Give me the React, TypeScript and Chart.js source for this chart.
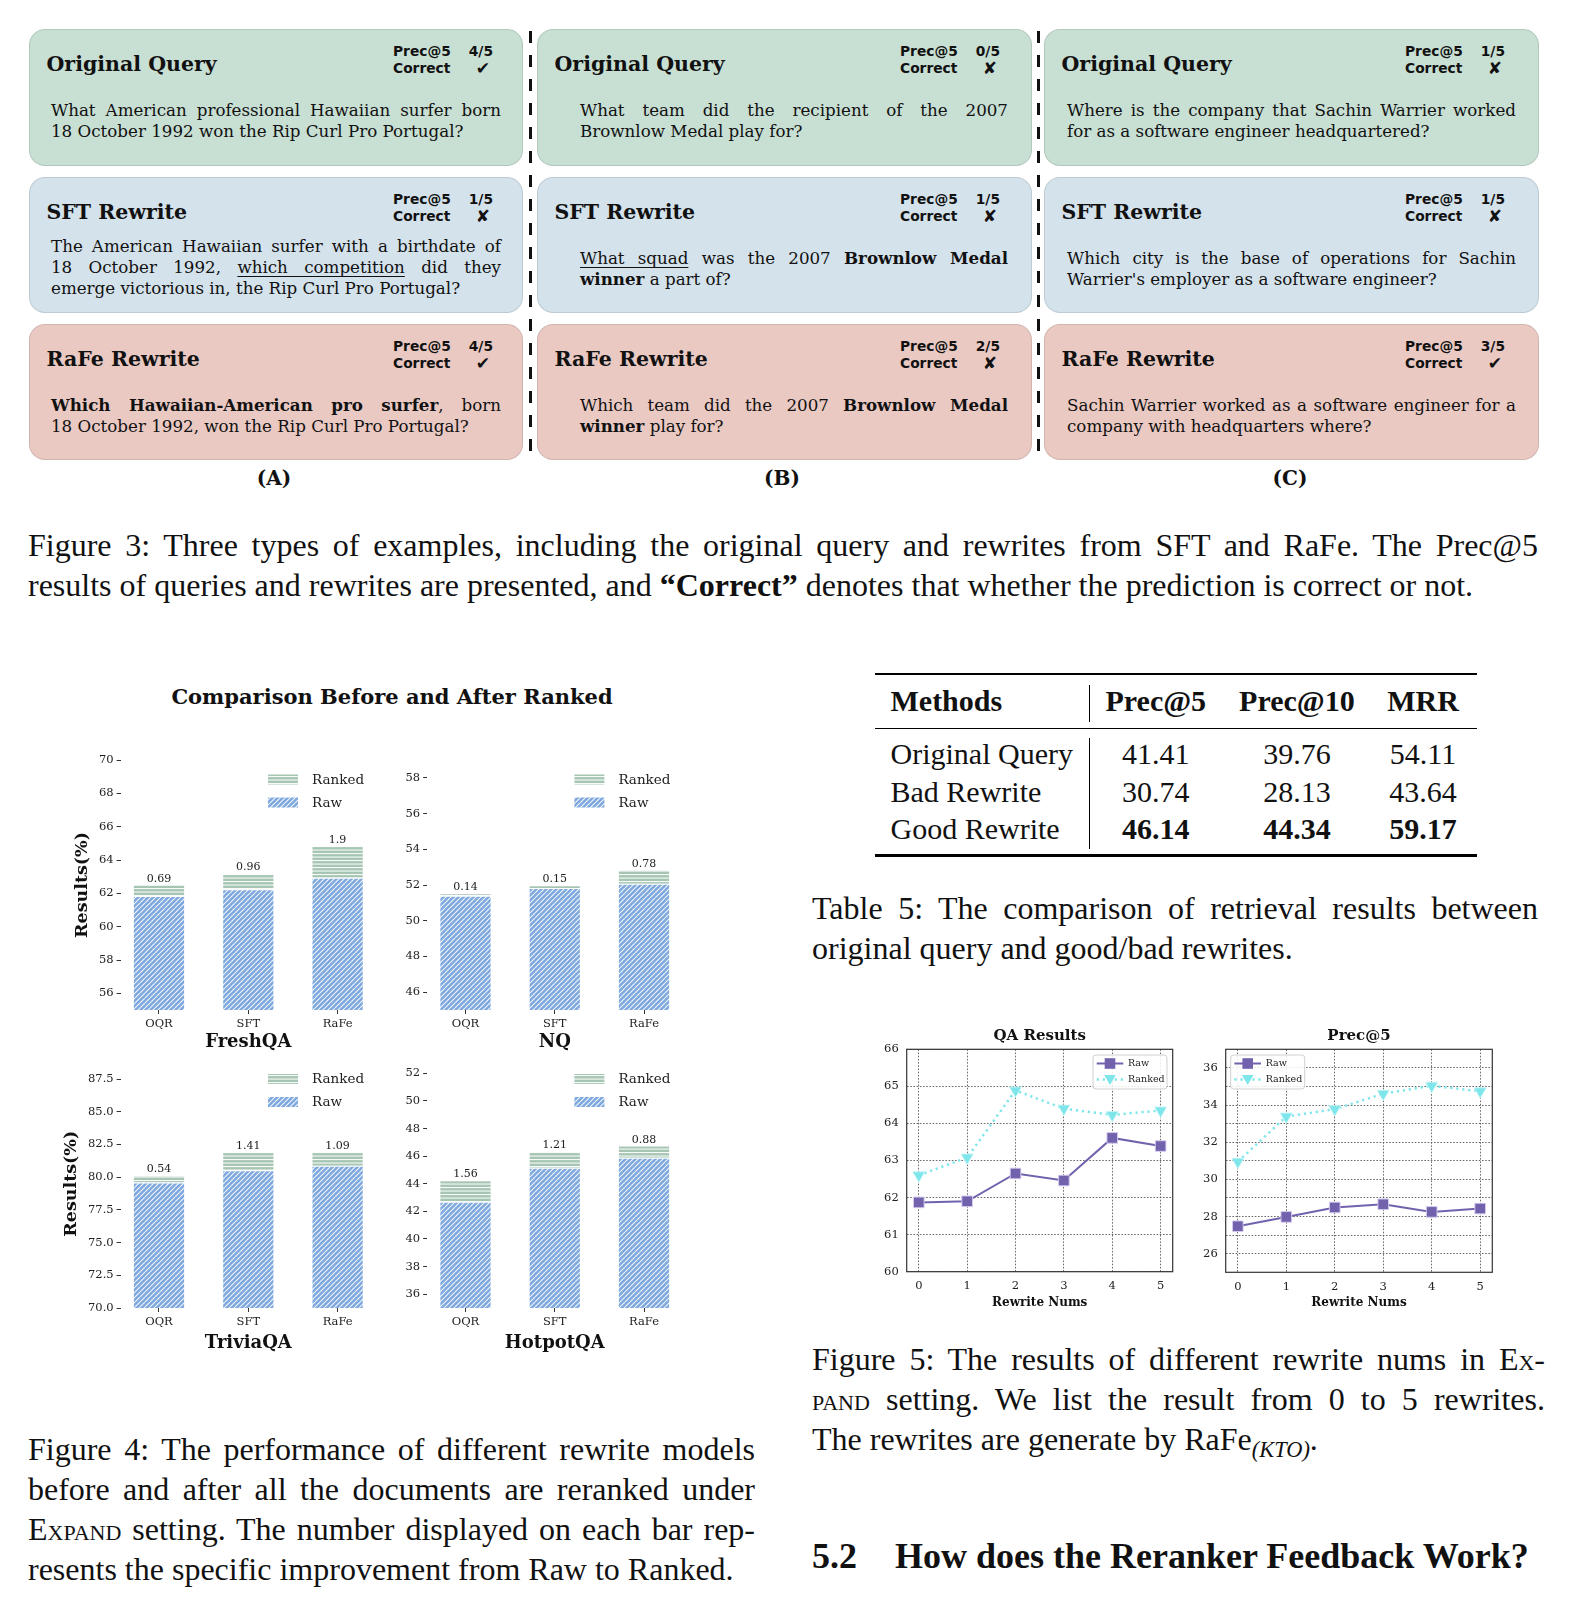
import React, { useEffect, useRef } from 'react';
import { Chart, registerables } from 'chart.js';

Chart.register(...registerables);

// ===== Figure 4 data =====
const methodLabels = ['OQR', 'SFT', 'RaFe'];
const freshqaRaw = [61.84, 62.24, 62.94];
const freshqaGain = [0.69, 0.96, 1.9];
const nqRaw = [51.4, 51.83, 52.07];
const nqGain = [0.14, 0.15, 0.78];
const triviaqaRaw = [79.6, 80.54, 80.87];
const triviaqaGain = [0.54, 1.41, 1.09];
const hotpotqaRaw = [42.7, 45.15, 45.89];
const hotpotqaGain = [1.56, 1.21, 0.88];
const freshqaTicks = [56, 58, 60, 62, 64, 66, 68, 70];
const nqTicks = [46, 48, 50, 52, 54, 56, 58];
const triviaqaTicks = [70, 72.5, 75, 77.5, 80, 82.5, 85, 87.5];
const hotpotqaTicks = [36, 38, 40, 42, 44, 46, 48, 50, 52];

// ===== Figure 5 data =====
const rewriteNums = [0, 1, 2, 3, 4, 5];
const qaRaw = [61.87, 61.9, 62.65, 62.46, 63.61, 63.39];
const qaRanked = [62.6, 63.08, 64.89, 64.4, 64.23, 64.35];
const precRaw = [27.48, 27.98, 28.49, 28.66, 28.25, 28.43];
const precRanked = [30.95, 33.38, 33.78, 34.61, 35.04, 34.74];
const qaTicks = [60, 61, 62, 63, 64, 65, 66];
const precTicks = [26, 27, 28, 29, 30, 31, 32, 33, 34, 35, 36];

// ===== Table 5 data =====
const tableMethods = ['Original Query', 'Bad Rewrite', 'Good Rewrite'];
const tablePrec5 = ['41.41', '30.74', '46.14'];
const tablePrec10 = ['39.76', '28.13', '44.34'];
const tableMRR = ['54.11', '43.64', '59.17'];

const GEO = '"DejaVu Serif", serif';
const TIMES = '"Liberation Serif", "Times New Roman", serif';
const SANS = '"DejaVu Sans", sans-serif';

const RAW_BLUE = '#7fa9de';
const RANK_GREEN = '#a6c5b2';
const PURPLE = '#7262ae';
const CYAN = '#7ee6ea';

function makePattern(kind: 'diag' | 'horiz'): any {
  const c = document.createElement('canvas');
  if (kind === 'diag') {
    const s = 5;
    c.width = s; c.height = s;
    const g = c.getContext('2d')!;
    g.fillStyle = RAW_BLUE; g.fillRect(0, 0, s, s);
    g.strokeStyle = 'rgba(255,255,255,0.92)'; g.lineWidth = 1.05;
    g.beginPath();
    for (const o of [-s, 0, s]) { g.moveTo(o, s); g.lineTo(o + s, 0); }
    g.stroke();
    return g.createPattern(c, 'repeat');
  }
  c.width = 4; c.height = 7;
  const g = c.getContext('2d')!;
  g.fillStyle = RANK_GREEN; g.fillRect(0, 0, 4, 7);
  g.fillStyle = 'rgba(255,255,255,0.9)';
  g.fillRect(0, 0, 4, 1.1);
  g.fillRect(0, 3.5, 4, 1.1);
  return g.createPattern(c, 'repeat');
}

const gainLabelPlugin = {
  id: 'gainLabels',
  afterDatasetsDraw(chart: any) {
    const ds = chart.data.datasets[1];
    const meta = chart.getDatasetMeta(1);
    const ctx = chart.ctx;
    ctx.save();
    ctx.font = '11px "DejaVu Serif"';
    ctx.fillStyle = '#222';
    ctx.textAlign = 'center';
    ctx.textBaseline = 'alphabetic';
    meta.data.forEach((bar: any, i: number) => {
      ctx.fillText(String(ds.data[i].y), bar.x, bar.y - 3);
    });
    ctx.restore();
  },
};

const barLegendPlugin = {
  id: 'barLegend',
  afterDraw(chart: any) {
    const { right, top } = chart.chartArea;
    const ctx = chart.ctx;
    ctx.save();
    [1, 0].forEach((di, row) => {
      const ds = chart.data.datasets[di];
      const y = top + 14.5 + row * 23;
      ctx.fillStyle = ds.backgroundColor;
      ctx.fillRect(right - 108, y, 30, 10);
      ctx.fillStyle = '#222';
      ctx.font = '13.5px "DejaVu Serif"';
      ctx.textAlign = 'left';
      ctx.textBaseline = 'middle';
      ctx.fillText(ds.label, right - 64, y + 5.5);
    });
    ctx.restore();
  },
};

function barConfig(p: any): any {
  const rawPat = makePattern('diag');
  const rankPat = makePattern('horiz');
  const tickGrid = { display: true, offset: false, drawOnChartArea: false, drawTicks: true, tickLength: 4, tickColor: '#333', tickWidth: 1 };
  return {
    type: 'bar',
    data: {
      datasets: [
        { label: 'Raw', data: p.raw.map((v: number, i: number) => ({ x: i, y: v })), backgroundColor: rawPat, borderColor: 'rgba(255,255,255,0.85)', borderWidth: 1, barPercentage: 0.585, categoryPercentage: 1 },
        { label: 'Ranked', data: p.gain.map((v: number, i: number) => ({ x: i, y: v })), backgroundColor: rankPat, borderColor: 'rgba(255,255,255,0.85)', borderWidth: 1, barPercentage: 0.585, categoryPercentage: 1 },
      ],
    },
    options: {
      animation: false,
      responsive: false,
      maintainAspectRatio: false,
      layout: { padding: { top: p.padTop, right: p.padRight, left: 0, bottom: 0 } },
      plugins: { legend: { display: false }, tooltip: { enabled: false }, title: { display: false } },
      scales: {
        x: {
          type: 'linear', stacked: true, offset: false, min: -0.43, max: 2.43,
          afterBuildTicks: (s: any) => { s.ticks = methodLabels.map((_, i) => ({ value: i })); },
          afterFit: (s: any) => { s.height = p.xHeight; },
          ticks: { callback: (v: any) => methodLabels[v], font: { family: GEO, size: 11.5 }, color: '#222', padding: 3, maxRotation: 0, autoSkip: false },
          grid: tickGrid,
          border: { display: false },
          title: { display: true, text: p.name, font: { family: GEO, size: 18, weight: 'bold' }, color: '#111', padding: { top: 0, bottom: 6.5 } },
        },
        y: {
          type: 'linear', stacked: true, min: p.min, max: p.max,
          afterBuildTicks: (s: any) => { s.ticks = p.ticks.map((v: number) => ({ value: v })); },
          afterFit: (s: any) => { s.width = p.yWidth; },
          ticks: { callback: (v: any) => Number(v).toFixed(p.decimals), font: { family: GEO, size: 11.5 }, color: '#222', padding: 3, autoSkip: false },
          grid: tickGrid,
          border: { display: false },
          title: { display: p.yTitle, text: 'Results(%)', font: { family: GEO, size: 17.5, weight: 'bold' }, color: '#111', padding: { top: p.yTitlePad, bottom: 0 } },
        },
      },
    },
    plugins: [gainLabelPlugin, barLegendPlugin],
  };
}

const lineDecorPlugin = {
  id: 'lineDecor',
  afterDraw(chart: any, _args: any, opts: any) {
    const ca = chart.chartArea;
    const ctx = chart.ctx;
    ctx.save();
    ctx.strokeStyle = '#333';
    ctx.lineWidth = 1.2;
    ctx.setLineDash([]);
    ctx.strokeRect(ca.left, ca.top, ca.right - ca.left, ca.bottom - ca.top);
    const bw = 74, bh = 34;
    const bx = opts.corner === 'right' ? ca.right - 5.7 - bw : ca.left + 5;
    const by = ca.top + 5.7;
    ctx.fillStyle = 'rgba(255,255,255,0.85)';
    ctx.strokeStyle = '#d0d0d0';
    ctx.lineWidth = 1;
    ctx.beginPath();
    if ((ctx as any).roundRect) (ctx as any).roundRect(bx, by, bw, bh, 3); else ctx.rect(bx, by, bw, bh);
    ctx.fill();
    ctx.stroke();
    chart.data.datasets.forEach((ds: any, i: number) => {
      const cy = by + 8.5 + i * 16;
      ctx.strokeStyle = ds.borderColor;
      ctx.lineWidth = ds.borderWidth;
      ctx.setLineDash(ds.borderDash || []);
      ctx.beginPath();
      ctx.moveTo(bx + 3.7, cy);
      ctx.lineTo(bx + 30.3, cy);
      ctx.stroke();
      ctx.setLineDash([]);
      ctx.fillStyle = ds.pointBackgroundColor;
      const mx = bx + 17;
      if (ds.pointStyle === 'rect') {
        ctx.fillRect(mx - 5.3, cy - 5.3, 10.6, 10.6);
      } else {
        ctx.beginPath();
        ctx.moveTo(mx - 5.8, cy - 4.5);
        ctx.lineTo(mx + 5.8, cy - 4.5);
        ctx.lineTo(mx, cy + 5.5);
        ctx.closePath();
        ctx.fill();
      }
      ctx.fillStyle = '#222';
      ctx.font = '9.5px "DejaVu Serif"';
      ctx.textAlign = 'left';
      ctx.textBaseline = 'middle';
      ctx.fillText(ds.label, bx + 35, cy);
    });
    ctx.restore();
  },
};

function lineConfig(p: any): any {
  return {
    type: 'line',
    data: {
      datasets: [
        {
          label: 'Raw', data: rewriteNums.map((x, i) => ({ x, y: p.raw[i] })),
          borderColor: PURPLE, backgroundColor: PURPLE, borderWidth: 2,
          pointStyle: 'rect', pointRadius: 7.5, pointBackgroundColor: PURPLE,
          pointBorderColor: 'rgba(215,205,240,0.9)', pointBorderWidth: 1, tension: 0,
        },
        {
          label: 'Ranked', data: rewriteNums.map((x, i) => ({ x, y: p.ranked[i] })),
          borderColor: CYAN, backgroundColor: CYAN, borderWidth: 2.5, borderDash: [2.2, 3.8],
          pointStyle: 'triangle', rotation: 180, pointRadius: 7, pointBackgroundColor: CYAN,
          pointBorderColor: 'rgba(200,245,247,0.9)', pointBorderWidth: 1, tension: 0,
        },
      ],
    },
    options: {
      animation: false,
      responsive: false,
      maintainAspectRatio: false,
      layout: { padding: { top: 0, right: p.padRight, left: 0, bottom: 0 } },
      plugins: {
        legend: { display: false },
        tooltip: { enabled: false },
        title: { display: true, text: p.title, fullSize: false, font: { family: GEO, size: 15, weight: 'bold' }, color: '#111', padding: { top: 12, bottom: 4.3 } },
        lineDecor: { corner: p.corner },
      },
      scales: {
        x: {
          type: 'linear', min: -0.25, max: 5.25,
          afterBuildTicks: (s: any) => { s.ticks = rewriteNums.map((v) => ({ value: v })); },
          afterFit: (s: any) => { s.height = p.xHeight; },
          ticks: { font: { family: GEO, size: 11.5 }, color: '#222', padding: 7.5, maxRotation: 0, autoSkip: false },
          grid: { display: true, drawTicks: false, color: 'rgba(80,80,80,0.85)', lineWidth: 1 },
          border: { display: false, dash: [1.6, 1.6] },
          title: { display: true, text: 'Rewrite Nums', font: { family: GEO, size: 12, weight: 'bold' }, color: '#111', padding: { top: 0, bottom: 5 } },
        },
        y: {
          type: 'linear', min: p.min, max: p.max,
          afterBuildTicks: (s: any) => { s.ticks = p.ticks.map((v: number) => ({ value: v })); },
          afterFit: (s: any) => { s.width = p.yWidth; },
          ticks: { callback: (v: any) => (p.everyOther && v % 2 !== 0 ? '' : String(v)), font: { family: GEO, size: 11.5 }, color: '#222', padding: 8, autoSkip: false },
          grid: { display: true, drawTicks: false, color: 'rgba(80,80,80,0.85)', lineWidth: 1 },
          border: { display: false, dash: [1.6, 1.6] },
        },
      },
    },
    plugins: [lineDecorPlugin],
  };
}

function ChartBox({ left, top, width, height, make }: any) {
  const ref = useRef<HTMLCanvasElement>(null);
  useEffect(() => {
    const chart = new Chart(ref.current as HTMLCanvasElement, make());
    return () => chart.destroy();
  }, []);
  return <canvas ref={ref} width={width} height={height} style={{ position: 'absolute', left, top, width, height }} />;
}

function Line({ x, y, w, size, lh, family, weight, justify, align, children, style }: any) {
  return (
    <div
      style={{
        position: 'absolute', left: x, top: y - lh / 2, width: w, height: lh, lineHeight: lh + 'px',
        fontSize: size, fontFamily: family, fontWeight: weight || 'normal',
        textAlign: justify ? 'justify' : align || 'left', textAlignLast: justify ? 'justify' : (align || 'left'),
        whiteSpace: 'nowrap', color: '#111', ...style,
      } as any}
    >
      {children}
    </div>
  );
}

const U = ({ children }: any) => <span style={{ textDecoration: 'underline', textUnderlineOffset: 3 }}>{children}</span>;
const B = ({ children }: any) => <b>{children}</b>;
const SC = ({ children }: any) => <span style={{ fontVariant: 'small-caps' }}>{children}</span>;

const COLS = [
  { left: 29, right: 523, bodyL: 22, bodyR: 22, precR: 30 },
  { left: 537, right: 1032, bodyL: 43, bodyR: 24, precR: 32 },
  { left: 1044, right: 1539, bodyL: 23, bodyR: 23, precR: 34 },
];
const ROWS = [
  { top: 29, h: 137, bg: '#c8dfd3', title: 'Original Query' },
  { top: 177, h: 136, bg: '#d4e2eb', title: 'SFT Rewrite' },
  { top: 324, h: 136, bg: '#eac9c3', title: 'RaFe Rewrite' },
];

const CELLS: any[][] = [
  [
    { prec: '4/5', ok: true, lines: ['What American professional Hawaiian surfer born', '18 October 1992 won the Rip Curl Pro Portugal?'] },
    { prec: '1/5', ok: false, lines: ['The American Hawaiian surfer with a birthdate of', <>18 October 1992, <U>which competition</U> did they</>, 'emerge victorious in, the Rip Curl Pro Portugal?'] },
    { prec: '4/5', ok: true, lines: [<><B>Which Hawaiian-American pro surfer</B>, born</>, '18 October 1992, won the Rip Curl Pro Portugal?'] },
  ],
  [
    { prec: '0/5', ok: false, lines: ['What team did the recipient of the 2007', 'Brownlow Medal play for?'] },
    { prec: '1/5', ok: false, lines: [<><U>What squad</U> was the 2007 <B>Brownlow Medal</B></>, <><B>winner</B> a part of?</>] },
    { prec: '2/5', ok: false, lines: [<>Which team did the 2007 <B>Brownlow Medal</B></>, <><B>winner</B> play for?</>] },
  ],
  [
    { prec: '1/5', ok: false, lines: ['Where is the company that Sachin Warrier worked', 'for as a software engineer headquartered?'] },
    { prec: '1/5', ok: false, lines: ['Which city is the base of operations for Sachin', "Warrier's employer as a software engineer?"] },
    { prec: '3/5', ok: true, lines: ['Sachin Warrier worked as a software engineer for a', 'company with headquarters where?'] },
  ],
];

function QBox({ col, row, cell }: any) {
  const w = col.right - col.left;
  const offs = cell.lines.length === 3 ? [69.8, 90.5, 111.2] : [81.5, 102.5];
  return (
    <>
      <div style={{ position: 'absolute', left: col.left, top: row.top, width: w, height: row.h, background: row.bg, borderRadius: 16, boxSizing: 'border-box', border: '1px solid rgba(0,0,0,0.10)' }} />
      <Line x={col.left + 17.5} y={row.top + 35} w={300} size={20.5} lh={26} family={GEO} weight="bold">{row.title}</Line>
      <div style={{ position: 'absolute', left: col.right - col.precR - 100, top: row.top + 13.5, width: 100, fontFamily: SANS, fontWeight: 'bold', fontSize: 13.8, lineHeight: '17px', color: '#111' }}>
        <div style={{ display: 'flex', justifyContent: 'space-between', height: 17 }}><span>Prec@5</span><span>{cell.prec}</span></div>
        <div style={{ display: 'flex', justifyContent: 'space-between', height: 17 }}><span>Correct</span><span style={{ paddingRight: 3, fontSize: 17, lineHeight: '17px' }}>{cell.ok ? '✔' : '✘'}</span></div>
      </div>
      {cell.lines.map((ln: any, i: number) => (
        <Line key={i} x={col.left + col.bodyL} y={row.top + offs[i]} w={w - col.bodyL - col.bodyR} size={16.7} lh={21} family={GEO} justify={i < cell.lines.length - 1}>{ln}</Line>
      ))}
    </>
  );
}

export default function App() {
  const cap = { size: 32, lh: 40, family: TIMES };
  return (
    <div style={{ position: 'absolute', left: 0, top: 0, width: 1579, height: 1604, background: '#fff', overflow: 'hidden' }}>
      {/* Figure 3 */}
      {COLS.map((col, ci) => ROWS.map((row, ri) => <QBox key={ci + '-' + ri} col={col} row={row} cell={CELLS[ci][ri]} />))}
      {[530, 1038].map((x) => (
        <div key={x} style={{ position: 'absolute', left: x - 1.5, top: 31, width: 3, height: 430, background: 'repeating-linear-gradient(to bottom, #111 0px, #111 12px, transparent 12px, transparent 24px)' }} />
      ))}
      {[['(A)', 274], ['(B)', 782], ['(C)', 1290]].map(([t, x]: any) => (
        <Line key={t} x={x - 50} y={478} w={100} size={20} lh={24} family={GEO} weight="bold" align="center">{t}</Line>
      ))}
      <Line x={28} y={545} w={1510} {...cap} justify>Figure 3: Three types of examples, including the original query and rewrites from SFT and RaFe. The Prec@5</Line>
      <Line x={28} y={585} w={1510} {...cap}>results of queries and rewrites are presented, and <b>“Correct”</b> denotes that whether the prediction is correct or not.</Line>

      {/* Figure 4 */}
      <Line x={92} y={697} w={600} size={21} lh={26} family={GEO} weight="bold" align="center">Comparison Before and After Ranked</Line>
      <ChartBox left={60} top={748} width={330} height={312} make={() => barConfig({ name: 'FreshQA', raw: freshqaRaw, gain: freshqaGain, ticks: freshqaTicks, min: 55, max: 70, decimals: 0, yTitle: true, yTitlePad: 11.5, yWidth: 60.6, xHeight: 50, padTop: 12, padRight: 14 })} />
      <ChartBox left={390} top={748} width={310} height={312} make={() => barConfig({ name: 'NQ', raw: nqRaw, gain: nqGain, ticks: nqTicks, min: 45, max: 59, decimals: 0, yTitle: false, yTitlePad: 0, yWidth: 37.1, xHeight: 50, padTop: 12, padRight: 17.6 })} />
      <ChartBox left={60} top={1047} width={330} height={314} make={() => barConfig({ name: 'TriviaQA', raw: triviaqaRaw, gain: triviaqaGain, ticks: triviaqaTicks, min: 70, max: 89, decimals: 1, yTitle: true, yTitlePad: 0.5, yWidth: 60.6, xHeight: 53, padTop: 12.5, padRight: 14 })} />
      <ChartBox left={390} top={1047} width={310} height={314} make={() => barConfig({ name: 'HotpotQA', raw: hotpotqaRaw, gain: hotpotqaGain, ticks: hotpotqaTicks, min: 35, max: 53, decimals: 0, yTitle: false, yTitlePad: 0, yWidth: 37.1, xHeight: 53, padTop: 12.5, padRight: 17.6 })} />

      <Line x={28} y={1449} w={727} {...cap} justify>Figure 4: The performance of different rewrite models</Line>
      <Line x={28} y={1489} w={727} {...cap} justify>before and after all the documents are reranked under</Line>
      <Line x={28} y={1529} w={727} {...cap} justify><SC>Expand</SC> setting. The number displayed on each bar rep-</Line>
      <Line x={28} y={1569} w={727} {...cap}>resents the specific improvement from Raw to Ranked.</Line>

      {/* Table 5 */}
      <div style={{ position: 'absolute', left: 875, top: 672.8, width: 602, height: 2.5, background: '#000' }} />
      <div style={{ position: 'absolute', left: 875, top: 727.6, width: 602, height: 1.3, background: '#000' }} />
      <div style={{ position: 'absolute', left: 875, top: 854.3, width: 602, height: 2.5, background: '#000' }} />
      <div style={{ position: 'absolute', left: 1088.8, top: 685, width: 1.3, height: 37, background: '#000' }} />
      <div style={{ position: 'absolute', left: 1088.8, top: 738, width: 1.3, height: 111, background: '#000' }} />
      <Line x={890.5} y={700.5} w={190} size={30} lh={36} family={TIMES} weight="bold">Methods</Line>
      <Line x={1155.8 - 80} y={700.5} w={160} size={30} lh={36} family={TIMES} weight="bold" align="center">Prec@5</Line>
      <Line x={1296.9 - 80} y={700.5} w={160} size={30} lh={36} family={TIMES} weight="bold" align="center">Prec@10</Line>
      <Line x={1423 - 80} y={700.5} w={160} size={30} lh={36} family={TIMES} weight="bold" align="center">MRR</Line>
      {tableMethods.map((m, i) => {
        const y = [753.7, 791.6, 829.4][i];
        const wt = i === 2 ? 'bold' : 'normal';
        return (
          <React.Fragment key={m}>
            <Line x={890.5} y={y} w={195} size={30} lh={36} family={TIMES}>{m}</Line>
            <Line x={1155.8 - 80} y={y} w={160} size={30} lh={36} family={TIMES} weight={wt} align="center">{tablePrec5[i]}</Line>
            <Line x={1296.9 - 80} y={y} w={160} size={30} lh={36} family={TIMES} weight={wt} align="center">{tablePrec10[i]}</Line>
            <Line x={1423 - 80} y={y} w={160} size={30} lh={36} family={TIMES} weight={wt} align="center">{tableMRR[i]}</Line>
          </React.Fragment>
        );
      })}
      <Line x={812} y={908} w={726} {...cap} justify>Table 5: The comparison of retrieval results between</Line>
      <Line x={812} y={948} w={726} {...cap}>original query and good/bad rewrites.</Line>

      {/* Figure 5 */}
      <ChartBox left={850} top={1015} width={340} height={300} make={() => lineConfig({ title: 'QA Results', raw: qaRaw, ranked: qaRanked, ticks: qaTicks, min: 60, max: 66, everyOther: false, yWidth: 56.7, xHeight: 43.3, padRight: 17.3, corner: 'right' })} />
      <ChartBox left={1180} top={1015} width={330} height={300} make={() => lineConfig({ title: 'Prec@5', raw: precRaw, ranked: precRanked, ticks: precTicks, min: 25, max: 37, everyOther: true, yWidth: 45.7, xHeight: 42.7, padRight: 17.7, corner: 'left' })} />

      <Line x={812} y={1359} w={733} {...cap} justify>Figure 5: The results of different rewrite nums in <SC>Ex-</SC></Line>
      <Line x={812} y={1399} w={733} {...cap} justify><SC>pand</SC> setting. We list the result from 0 to 5 rewrites.</Line>
      <Line x={812} y={1439} w={733} {...cap}>The rewrites are generate by RaFe<sub style={{ fontSize: '0.7em', fontStyle: 'italic', verticalAlign: '-0.3em' }}>(KTO)</sub>.</Line>

      <Line x={812} y={1556} w={80} size={36} lh={44} family={TIMES} weight="bold">5.2</Line>
      <Line x={895} y={1556} w={680} size={36} lh={44} family={TIMES} weight="bold">How does the Reranker Feedback Work?</Line>
    </div>
  );
}
